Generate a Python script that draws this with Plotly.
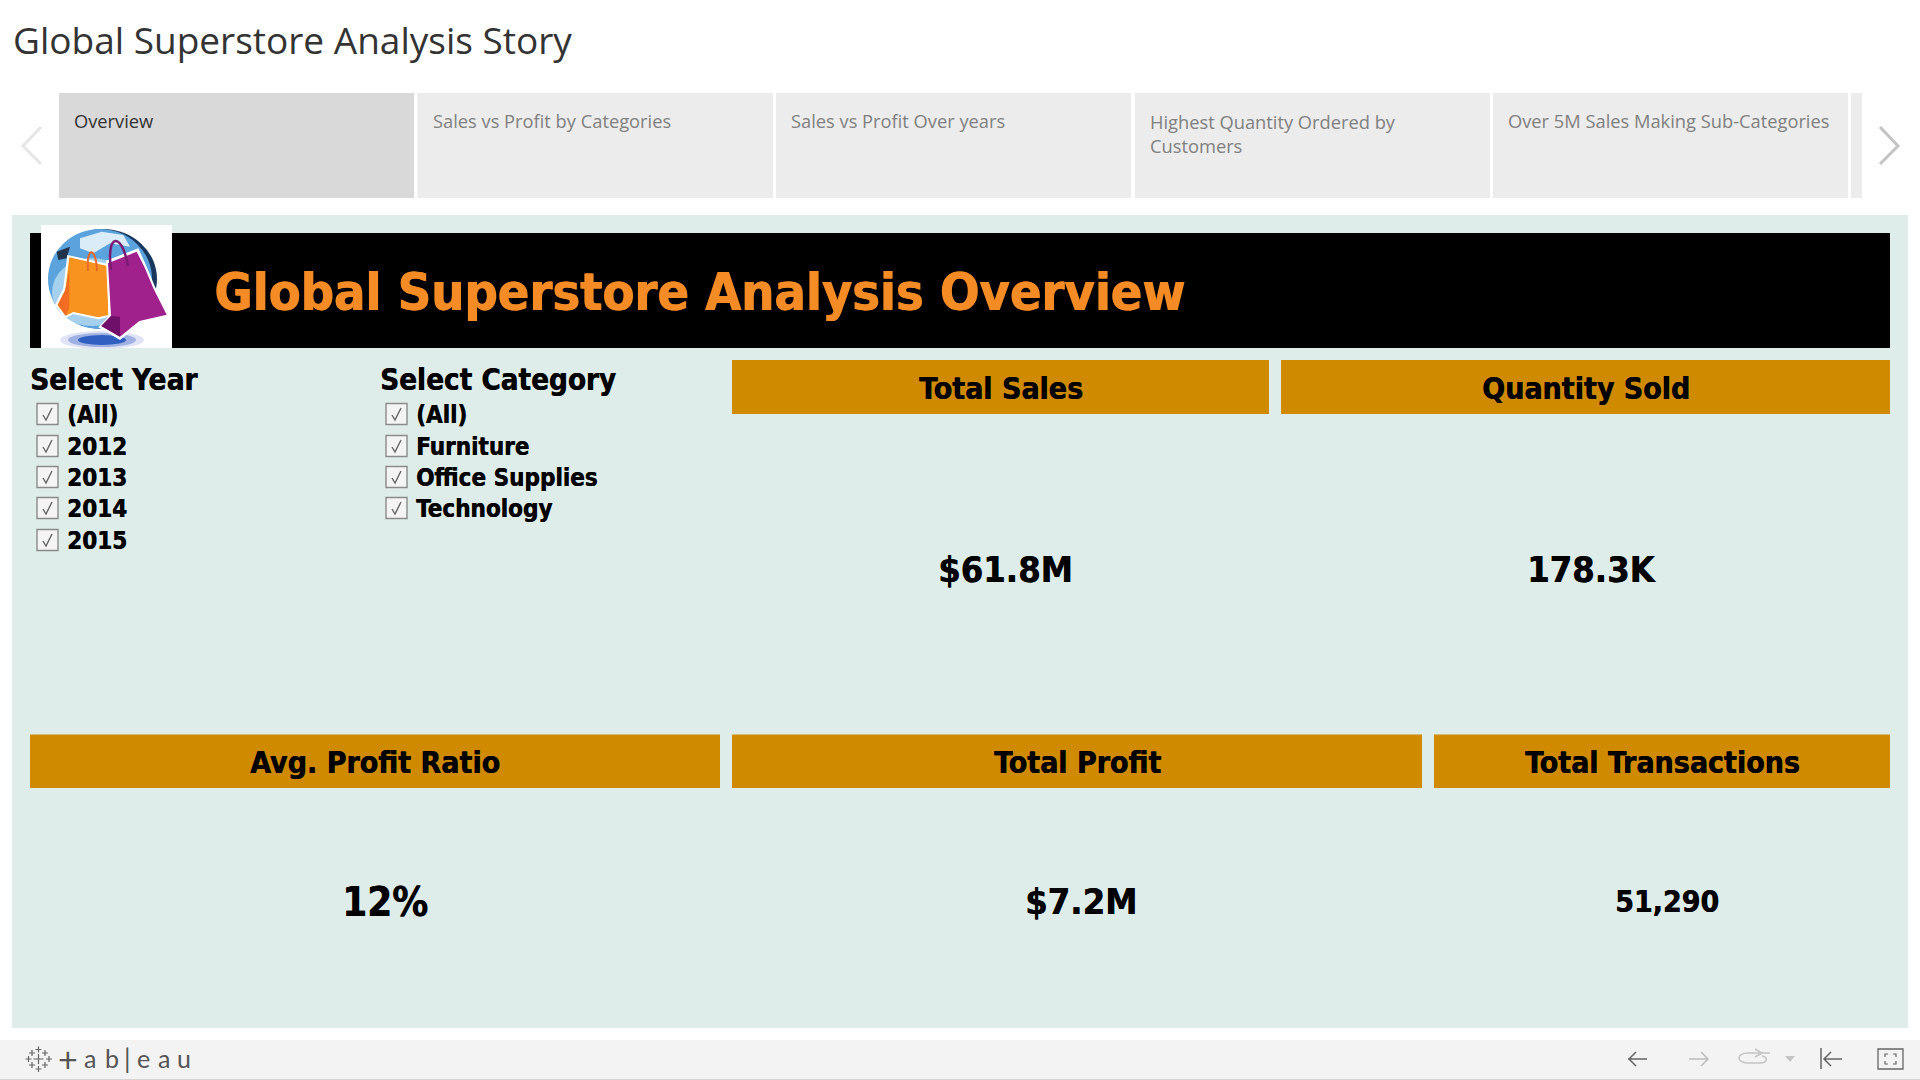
import plotly.graph_objects as go

# ---------------------------------------------
# Text content
# ---------------------------------------------
STORY_TITLE = "Global Superstore Analysis Story"
DASH_TITLE = "Global Superstore Analysis Overview"
tab_labels = ["Overview", "Sales vs Profit by Categories", "Sales vs Profit Over years",
              "Highest Quantity Ordered by<br>Customers", "Over 5M Sales Making Sub-Categories"]
years = ["(All)", "2012", "2013", "2014", "2015"]
categories = ["(All)", "Furniture", "Office Supplies", "Technology"]
kpi_names = ["Total Sales", "Quantity Sold", "Avg. Profit Ratio", "Total Profit", "Total Transactions"]
kpi_values = ["$61.8M", "178.3K", "12%", "$7.2M", "51,290"]
brand_letters = ["+", "a", "b", "|", "e", "a", "u"]

BOLD_FONT = "DejaVu Sans Condensed, DejaVu Sans"
BOOK_FONT = "Open Sans"
COLOR_PANEL = "#dfedea"
COLOR_HEADER = "#cf8a00"
COLOR_BANNER_TEXT = "#f58b25"

shapes = []
annotations = []


def add_rect(x0, y0, x1, y1, color):
    shapes.append(dict(type="rect", x0=x0, y0=y0, x1=x1, y1=y1,
                       fillcolor=color, line=dict(width=0), layer="below"))


def add_path(path, fill=None, line_color=None, line_width=0):
    shapes.append(dict(type="path", path=path, fillcolor=fill or "rgba(0,0,0,0)",
                       line=dict(color=line_color or "rgba(0,0,0,0)", width=line_width),
                       layer="below"))


def add_text(x, y, text, size, color="#000000", font=BOLD_FONT, anchor="left", bold=True, fat=0.0):
    font_opts = dict(family=font, size=size, color=color)
    if fat:
        font_opts["shadow"] = f"{fat}px 0 0 {color}"
    annotations.append(dict(x=x, y=y, text=f"<b>{text}</b>" if bold else text, showarrow=False,
                            xanchor=anchor, yanchor="middle", align=anchor, font=font_opts))


def logo_path(points, close=True):
    # points are in the logo's own zoomed grid
    coords = [f"{30 + px / 3:.1f},{220 + py / 3:.1f}" for px, py in points]
    return "M " + " L ".join(coords) + (" Z" if close else "")


def add_circle(cx, cy, rx, ry, color):
    shapes.append(dict(type="circle", x0=cx - rx, y0=cy - ry, x1=cx + rx, y1=cy + ry,
                       fillcolor=color, line=dict(width=0), layer="below"))


# ---------------------------------------------
# Story header and tabs
# ---------------------------------------------
add_text(11, 39, STORY_TITLE, 37, "#333333", BOOK_FONT, bold=False)

tab_x = [(59, 414), (417.5, 773), (776, 1131), (1135, 1490), (1493, 1848)]
for i, (x0, x1) in enumerate(tab_x):
    add_rect(x0, 93, x1, 198, "#d9d9d9" if i == 0 else "#ececec")
    add_text(x0 + 13, 120.5 if i != 3 else 133.5, tab_labels[i], 18.3,
             "#333333" if i == 0 else "#808080", BOOK_FONT, bold=False)
add_rect(1851, 93, 1862, 198, "#ececec")

add_path("M 41,127 L 23,146 L 41,164", line_color="#e6e6e6", line_width=3)
add_path("M 1880,127 L 1898,146 L 1880,164", line_color="#c4c4c4", line_width=3)

# ---------------------------------------------
# Dashboard panel and banner
# ---------------------------------------------
add_rect(12, 215, 1908, 1028, COLOR_PANEL)
add_rect(30, 233, 1890, 348, "#000000")
add_text(212, 292, DASH_TITLE, 51.8, COLOR_BANNER_TEXT, fat=1)

# logo
add_rect(41, 225, 172, 348, "#ffffff")
add_circle(102, 340, 42, 9, "#dfe3f5")
add_circle(102, 340, 34, 7, "#9fb0e2")
add_circle(102, 340, 24, 5, "#2f5fc0")
add_circle(103, 279, 54, 50, "#17375e")
add_circle(100, 279, 52, 50, "#5ba3dc")
add_circle(92, 292, 40, 34, "#a5d0ee")
add_path(logo_path([(150, 55), (215, 35), (280, 45), (300, 80), (240, 70), (190, 100), (150, 85)]), "#d9ecf8")
add_path(logo_path([(80, 95), (120, 80), (110, 115), (85, 120)]), "#22324a")
# orange bag
add_path(logo_path([(112, 105), (235, 132), (240, 290), (205, 298), (130, 282), (105, 295), (75, 255), (100, 205)]), "#ffffff")
add_path(logo_path([(118, 112), (232, 138), (235, 285), (205, 292), (130, 276), (107, 287), (83, 255), (106, 210)]), "#f7931e")
add_path(logo_path([(106, 210), (118, 150), (118, 265), (107, 287), (83, 255)]), "#f26c21")
add_path("M 88,271 C 86,246 96,246 97,271", line_color="#e9692c", line_width=2)
# purple bag
add_path(logo_path([(228, 122), (325, 85), (350, 140), (375, 200), (418, 288), (332, 310), (270, 360), (205, 322), (236, 290)]), "#ffffff")
add_path(logo_path([(234, 130), (320, 95), (345, 145), (370, 205), (410, 284), (328, 303), (270, 350), (214, 318), (243, 288)]), "#a0218c")
add_path(logo_path([(243, 288), (270, 290), (270, 350), (214, 318)]), "#6f0f6a")
add_path("M 111,270 C 106,232 122,232 128,266", line_color="#7a1a72", line_width=2.5)

# ---------------------------------------------
# Filters
# ---------------------------------------------
add_text(28, 380, "Select Year", 29.5, fat=0.5)
add_text(378, 380, "Select Category", 29.3, fat=0.5)

row_y = [414, 446, 477, 508, 540]


def add_checkbox(x, y):
    shapes.append(dict(type="rect", x0=x, y0=y - 10.5, x1=x + 21, y1=y + 10.5, fillcolor="#f4f4f4",
                       line=dict(color="#8a8a8a", width=1.4), layer="below"))
    add_path(f"M {x + 6},{y + 1} L {x + 9},{y + 6} L {x + 15},{y - 6}", line_color="#666666", line_width=1.4)


for label, y in zip(years, row_y):
    add_checkbox(37, y)
    add_text(64.5, y + 0.5, label, 24, fat=0.4)
for label, y in zip(categories, row_y):
    add_checkbox(386, y)
    add_text(413.5, y + 0.5, label, 24, fat=0.4)

# ---------------------------------------------
# KPI headers and values
# ---------------------------------------------
header_boxes = [(732, 360, 1269, 414), (1281, 360, 1890, 414), (30, 734.5, 720, 788),
                (732, 734.5, 1422, 788), (1434, 734.5, 1890, 788)]
value_pos = [(1005, 569.5), (1591, 569.5), (385, 902), (1081, 901.5), (1667, 901)]
value_sizes = [36, 36, 40, 36, 30]

for name, box in zip(kpi_names, header_boxes):
    add_rect(box[0], box[1], box[2], box[3], COLOR_HEADER)
    add_text((box[0] + box[2]) / 2, (box[1] + box[3]) / 2 + 1, name, 30, anchor="center", fat=0.5)
for value, pos, size in zip(kpi_values, value_pos, value_sizes):
    add_text(pos[0], pos[1], value, size, anchor="center", fat=0.5)

# ---------------------------------------------
# Footer toolbar
# ---------------------------------------------
add_rect(0, 1040, 1920, 1079, "#f3f3f3")
add_rect(0, 1079, 1920, 1080, "#d4d4d4")
brand_x = [68, 90, 111.5, 127, 143.5, 163.5, 183.5]
brand_sizes = [34, 25, 25, 26, 25, 25, 25]
for letter, x, size in zip(brand_letters, brand_x, brand_sizes):
    add_text(x, 1058, letter, size, "#555555", "Lato", anchor="center", bold=False)

# tableau cross logo
for cx, cy, arm in [(38.5, 1059, 5), (38.5, 1049.5, 3), (38.5, 1069, 3), (28.5, 1059, 3), (49, 1059, 3),
                    (32, 1053, 3), (45, 1053, 3), (32, 1065, 3), (45, 1065, 3)]:
    add_path(f"M {cx - arm},{cy} L {cx + arm},{cy} M {cx},{cy - arm} L {cx},{cy + arm}",
             line_color="#666666", line_width=1.2)

# toolbar icons
add_path("M 1647,1059 L 1628,1059 M 1636,1052 L 1629,1059 L 1636,1066", line_color="#666666", line_width=1.5)
add_path("M 1689,1059 L 1708,1059 M 1701,1052 L 1708,1059 L 1701,1066", line_color="#bdbdbd", line_width=1.5)
add_path("M 1770,1053 L 1748,1053 C 1736,1053 1736,1063 1748,1063 L 1760,1063 C 1768,1063 1768,1057 1762,1056",
         line_color="#c4c4c4", line_width=1.5)
add_path("M 1755,1049 L 1762,1053 L 1755,1057", line_color="#c4c4c4", line_width=1.5)
add_path("M 1785,1056 L 1795,1056 L 1790,1062 Z", fill="#c4c4c4")
add_path("M 1821,1048 L 1821,1069 M 1842,1059 L 1824,1059 M 1831,1052 L 1824,1059 L 1831,1066",
         line_color="#666666", line_width=1.5)
shapes.append(dict(type="rect", x0=1878, y0=1049, x1=1903, y1=1069, fillcolor="rgba(0,0,0,0)",
                   line=dict(color="#666666", width=1.3), layer="below"))
add_path("M 1885,1057 L 1885,1054 L 1888,1054 M 1893,1054 L 1896,1054 L 1896,1057 "
         "M 1896,1061 L 1896,1064 L 1893,1064 M 1888,1064 L 1885,1064 L 1885,1061",
         line_color="#666666", line_width=1.2)

fig = go.Figure()
fig.update_layout(
    width=1920, height=1080,
    margin=dict(l=0, r=0, t=0, b=0),
    paper_bgcolor="#ffffff", plot_bgcolor="#ffffff",
    xaxis=dict(range=[0, 1920], visible=False, fixedrange=True),
    yaxis=dict(range=[1080, 0], visible=False, fixedrange=True),
    shapes=shapes, annotations=annotations, showlegend=False,
)
fig.write_html("out.html", config=dict(displayModeBar=False),
               post_script="document.body.style.margin='0';")
